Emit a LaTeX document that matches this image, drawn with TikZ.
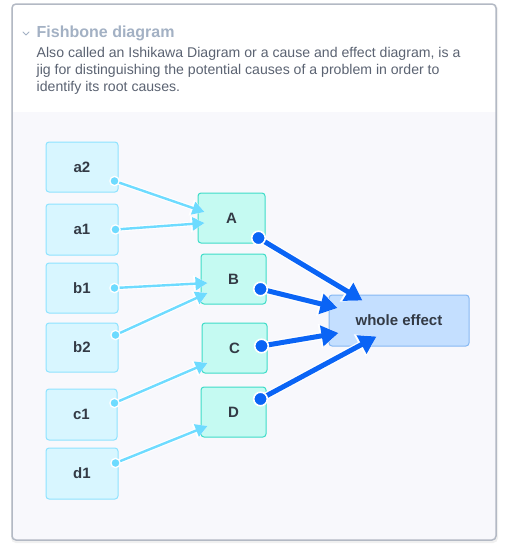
\documentclass[tikz,border=0pt]{standalone}
\usepackage{fontspec}
\setmainfont{Liberation Sans}
\usetikzlibrary{arrows.meta,calc}
\definecolor{cardborder}{HTML}{B3B9C4}
\definecolor{panelbg}{HTML}{F8F8FC}
\definecolor{titlecol}{HTML}{A3B1C4}
\definecolor{desccol}{HTML}{5B6372}
\definecolor{labelcol}{HTML}{333A45}
\definecolor{srcfill}{HTML}{D8F6FF}
\definecolor{srcdraw}{HTML}{8EE3FF}
\definecolor{midfill}{HTML}{C5FAF2}
\definecolor{middraw}{HTML}{3EDCC8}
\definecolor{effill}{HTML}{C4DFFF}
\definecolor{efdraw}{HTML}{86B8F3}
\definecolor{thincol}{HTML}{6EDBFF}
\definecolor{thickcol}{HTML}{0A64F5}
\tikzset{
  srcbox/.style={draw=srcdraw,fill=srcfill,rounded corners=3pt,line width=1pt,
    minimum width=72pt,minimum height=50pt,inner sep=0pt,text=labelcol,
    font=\fontsize{15}{17}\selectfont\bfseries},
  midbox/.style={draw=middraw,fill=midfill,rounded corners=3pt,line width=1pt,
    minimum width=65pt,minimum height=50pt,inner sep=0pt,text=labelcol,
    font=\fontsize{15}{17}\selectfont\bfseries},
  effbox/.style={draw=efdraw,fill=effill,rounded corners=3pt,line width=1pt,
    minimum width=140pt,minimum height=51pt,inner sep=0pt,text=labelcol,
    font=\fontsize{15}{17}\selectfont\bfseries},
  thinlink/.style={draw=thincol,line width=2.4pt,
    -{Triangle[length=12pt,width=13pt]},
    preaction={draw=white,line width=4.6pt,-{Triangle[length=14pt,width=16pt]}}},
  thicklink/.style={draw=thickcol,line width=5pt,
    -{Triangle[length=17pt,width=20pt]},
    preaction={draw=white,line width=7.5pt,-{Triangle[length=19pt,width=24pt]}}},
  thindot/.style={fill=thincol,draw=white,line width=1.3pt},
  thickdot/.style={fill=thickcol,draw=white,line width=1.6pt},
}
\begin{document}
\begin{tikzpicture}[x=1pt,y=-1pt]
\useasboundingbox (0,0) rectangle (507,547);
\fill[white] (0,0) rectangle (507,547);
% card shadow
\fill[black!6,rounded corners=5pt] (11,4) rectangle (498,543);
% card
\begin{scope}
\clip[rounded corners=4pt] (12,4) rectangle (496,540);
\fill[white] (12,4) rectangle (496,112);
\fill[panelbg] (12,112) rectangle (496,540);
\end{scope}
\draw[cardborder,line width=1.5pt,rounded corners=4pt] (12,4) rectangle (496,540);
% header
\draw[titlecol,line width=1pt,line cap=round,line join=round] (23,32) -- (26,35) -- (29,32);
\node[anchor=west,inner sep=0pt,text=titlecol,font=\fontsize{16}{18}\selectfont\bfseries] (title) at (36.5,33) {Fishbone diagram};
\node[anchor=north west,inner sep=0pt,text=desccol,align=left,font=\fontsize{14.1}{16.8}\selectfont] (desc) at (36.5,47.5) {Also called an Ishikawa Diagram or a cause and effect diagram, is a\\jig for distinguishing the potential causes of a problem in order to\\identify its root causes.};
% nodes
\node[srcbox] (a2) at (82,167) {a2};
\node[srcbox,minimum height=51pt] (a1) at (82,229.5) {a1};
\node[srcbox] (b1) at (82,288) {b1};
\node[srcbox,minimum height=49pt] (b2) at (82,347.5) {b2};
\node[srcbox,minimum width=71pt,minimum height=51pt] (c1) at (81.5,414.5) {c1};
\node[srcbox,minimum height=51pt] (d1) at (82,473.5) {d1};
\node[midbox,minimum width=67pt] (A) at (231.5,218) {A};
\node[midbox] (B) at (233.5,279) {B};
\node[midbox] (C) at (234.5,348) {C};
\node[midbox] (D) at (233.5,412) {D};
\node[effbox] (W) at (399,320.5) {whole effect};
% thin connectors
\draw[thinlink] ($(a2.east)+(-4,14)$) -- ($(A.west)+(7,-6)$);
\draw[thinlink] ($(a1.east)+(-3,0)$) -- ($(A.west)+(7,5)$);
\draw[thinlink] ($(b1.east)+(-4,0)$) -- ($(B.west)+(7,4)$);
\draw[thinlink] ($(b2.east)+(-3,-12.5)$) -- ($(B.west)+(7,14)$);
\draw[thinlink] ($(c1.east)+(-3,-11.5)$) -- ($(C.west)+(6,15)$);
\draw[thinlink] ($(d1.east)+(-3,-10.5)$) -- ($(D.west)+(7,14)$);
\foreach \n/\dx/\dy in {a2/-4/14,a1/-3/0,b1/-4/0,b2/-3/-12.5,c1/-3/-11.5,d1/-3/-10.5}
  \path[thindot] ($(\n.east)+(\dx,\dy)$) circle (4.6pt);
% thick connectors
\draw[thicklink] ($(A.east)+(-7,20)$) -- ($(W.north west)+(34,6)$);
\draw[thicklink] ($(B.east)+(-6,10)$) -- ($(W.west)+(9,-12.5)$);
\draw[thicklink] ($(C.east)+(-6,-2)$) -- ($(W.west)+(10,12.5)$);
\draw[thicklink] ($(D.east)+(-6,-13)$) -- ($(W.south west)+(48,-10)$);
\foreach \n/\dx/\dy in {A/-7/20,B/-6/10,C/-6/-2,D/-6/-13}
  \path[thickdot] ($(\n.east)+(\dx,\dy)$) circle (6.8pt);
\end{tikzpicture}
\end{document}
